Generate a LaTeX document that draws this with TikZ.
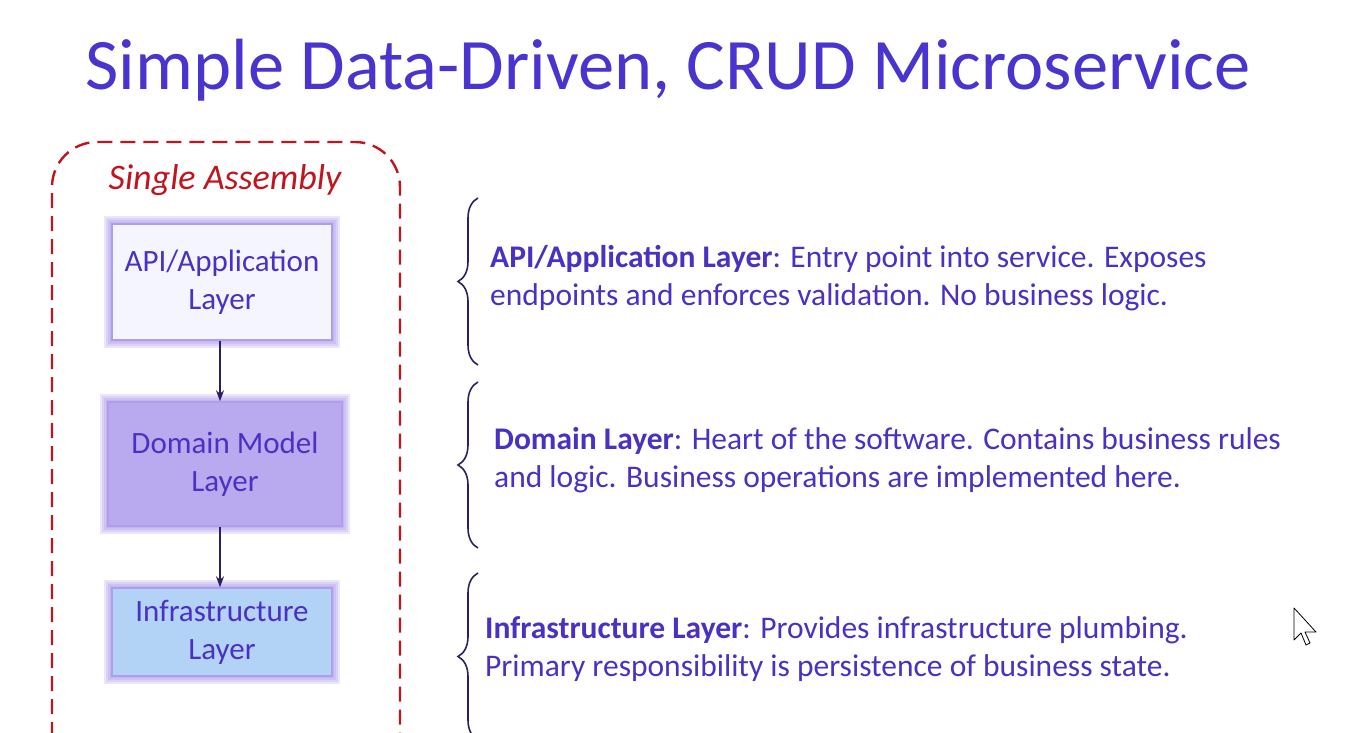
\documentclass[tikz,border=0pt]{standalone}
\usepackage{fontspec}
\setmainfont{Carlito}
\usetikzlibrary{decorations.pathreplacing,arrows.meta}
\definecolor{ttl}{HTML}{4A34D0}
\definecolor{txt}{HTML}{4B30C4}
\definecolor{red}{HTML}{C0141E}
\definecolor{glow}{HTML}{9B86E8}
\definecolor{navy}{HTML}{2A2060}
\definecolor{infc}{HTML}{B2D2F6}
\begin{document}
\begin{tikzpicture}[x=1pt,y=-1pt,
  box/.style={draw=glow!80!white,line width=1.5pt,text=txt,font=\fontsize{31}{38}\selectfont,align=center,inner sep=0pt},
  glowline/.style={draw=glow,opacity=0.2,line width=#1},
  desc/.style={anchor=west,text=txt,font=\fontsize{31.5}{38.5}\selectfont,align=left,inner sep=0pt},
  arr/.style={-{Stealth[length=11pt,width=8pt]},navy,line width=1.6pt},
  brace/.style={navy,line width=1.6pt,decorate,decoration={brace,amplitude=20pt,mirror}}]
\useasboundingbox[fill=white] (0,0) rectangle (1351,733);
\node[text=ttl,font=\fontsize{72.5}{78}\selectfont,inner sep=0pt] (title) at (668,70) {Simple Data-Driven, CRUD Microservice};
\draw[red,line width=2.4pt,dash pattern=on 15pt off 8pt,rounded corners=45pt] (52,760) -- (52,142) -- (400,142) -- (400,760);
\node[text=red,font=\itshape\fontsize{36}{40}\selectfont,inner sep=0pt] (sa) at (225,180) {Single Assembly};
\foreach \w in {16pt,12pt,8pt,4pt}{
 \draw[glowline=\w] (112,224) rectangle (332,340);
 \draw[glowline=\w] (108,402) rectangle (342,526);
 \draw[glowline=\w] (112,588) rectangle (332,676);}
\node[box,fill=blue!4!white,minimum width=220pt,minimum height=116pt] (api) at (222,282) {API/Application\\Layer};
\node[box,fill=glow!70!white,minimum width=234pt,minimum height=124pt] (dom) at (225,464) {Domain Model\\Layer};
\node[box,fill=infc,minimum width=220pt,minimum height=88pt] (inf) at (222,632) {Infrastructure\\Layer};
\draw[arr] (api.south -| 220,0) -- (dom.north -| 220,0);
\draw[arr] (dom.south -| 220,0) -- (inf.north -| 220,0);
\coordinate (b1t) at (478,198); \coordinate (b1b) at (478,365);
\coordinate (b2t) at (478,382); \coordinate (b2b) at (478,548);
\coordinate (b3t) at (478,573); \coordinate (b3b) at (478,740);
\draw[brace] (b1t) -- (b1b);
\draw[brace] (b2t) -- (b2b);
\draw[brace] (b3t) -- (b3b);
\node[desc] (d1) at (490,278) {\textbf{API/Application Layer}: Entry point into service. Exposes\\endpoints and enforces validation. No business logic.};
\node[desc] (d2) at (494,460) {\textbf{Domain Layer}: Heart of the software. Contains business rules\\and logic. Business operations are implemented here.};
\node[desc] (d3) at (485,649) {\textbf{Infrastructure Layer}: Provides infrastructure plumbing.\\Primary responsibility is persistence of business state.};
\draw[fill=white,draw=black,line width=0.8pt,line join=round] (1294,608) -- (1294,640) -- (1301,633) -- (1306,645) -- (1310,643) -- (1305,632) -- (1316,632) -- cycle;
\end{tikzpicture}
\end{document}
